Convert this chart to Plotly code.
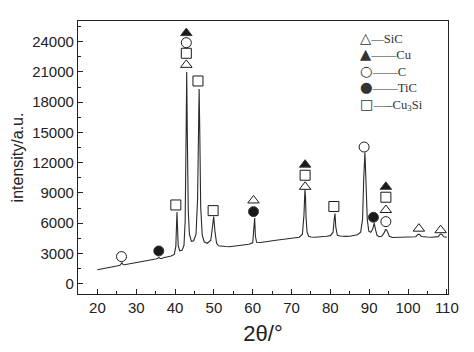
import plotly.graph_objects as go

# XRD profile (2θ in degrees, intensity in a.u.)
two_theta = [20.0, 21.0, 22.0, 23.0, 24.0, 25.0, 25.8, 26.1, 26.3, 26.6, 27.0, 28.0, 29.0, 30.0,
             31.0, 32.0, 33.0, 34.0, 35.0, 35.5, 35.8, 36.1, 36.5, 37.0, 38.0, 39.0, 39.8,
             40.2, 40.4, 40.5, 40.6, 40.8, 41.2, 41.8, 42.3, 42.6, 42.85, 43.0, 43.15, 43.4,
             43.7, 44.2, 44.8, 45.4, 45.8, 46.05, 46.2, 46.35, 46.6, 47.0, 47.5, 48.3, 49.2,
             49.6, 49.95, 50.3, 50.7, 51.2, 52.0, 53.0, 54.0, 55.0, 56.0, 57.0, 58.0, 59.0,
             60.0, 60.3, 60.5, 60.7, 61.0, 62.0, 63.0, 64.0, 65.0, 66.0, 67.0, 68.0, 69.0,
             70.0, 71.0, 72.0, 72.8, 73.2, 73.45, 73.6, 73.75, 74.0, 74.4, 75.0, 76.0, 77.0,
             78.0, 79.0, 80.0, 80.7, 81.0, 81.2, 81.4, 81.8, 82.5, 83.0, 84.0, 85.0, 86.0,
             87.0, 87.8, 88.3, 88.6, 88.9, 89.2, 89.5, 89.9, 90.4, 90.9, 91.1, 91.3, 91.6,
             92.0, 92.5, 93.2, 93.8, 94.2, 94.5, 94.8, 95.2, 96.0, 97.0, 98.0, 99.0, 100.0,
             101.0, 102.0, 102.6, 103.0, 103.4, 104.0, 105.0, 106.0, 107.0, 107.8, 108.3,
             108.7, 109.2, 110.0]
intensity = [1380, 1440, 1520, 1590, 1670, 1750, 1820, 1960, 2080, 1900, 1870, 1950, 2010, 2080,
             2150, 2220, 2300, 2360, 2440, 2480, 2600, 2520, 2470, 2560, 2640, 2740, 2900,
             3700, 6100, 7100, 5900, 3800, 3250, 3300, 3800, 6200, 15000, 21000, 15000, 7200,
             4900, 4200, 4250, 4900, 8400, 16500, 19300, 15500, 7600, 4800, 4150, 4000, 4300,
             5500, 6650, 5100, 4000, 3750, 3700, 3680, 3650, 3700, 3760, 3800, 3860, 3900,
             4050, 5600, 6500, 4700, 4100, 4080, 4150, 4200, 4260, 4300, 4350, 4400, 4450,
             4480, 4530, 4600, 4900, 6800, 9300, 8600, 6500, 5100, 4700, 4620, 4600, 4620,
             4650, 4700, 4760, 5100, 6400, 6950, 5600, 4800, 4720, 4700, 4690, 4700, 4760,
             4850, 5100, 6400, 10500, 13000, 9800, 6400, 5200, 5100, 5400, 5900, 6000, 5400,
             4800, 4650, 4700, 5000, 5350, 5330, 5000, 4700, 4580, 4600, 4580, 4620, 4600,
             4620, 4650, 4900, 4880, 4680, 4640, 4620, 4600, 4630, 4660, 4920,
             4900, 4650, 4600]

# Phase markers (2θ, intensity)
sic_x = [42.9, 60.2, 73.5, 94.3, 102.8, 108.4]
sic_y = [21700, 8250, 9600, 7300, 5450, 5300]
cu_x = [42.9, 73.5, 94.3]
cu_y = [24850, 11800, 9600]
c_x = [26.2, 42.9, 88.7, 94.3]
c_y = [2680, 23900, 13550, 6150]
tic_x = [35.8, 60.2, 91.1]
tic_y = [3240, 7140, 6580]
cu3si_x = [40.2, 42.9, 45.9, 49.8, 73.5, 80.9, 94.3]
cu3si_y = [7800, 22850, 20100, 7240, 10750, 7650, 8570]

x_ticks = [20, 30, 40, 50, 60, 70, 80, 90, 100, 110]
y_ticks = [0, 3000, 6000, 9000, 12000, 15000, 18000, 21000, 24000]

# key text: symbol, connector, phase name
key_lines = [
    ("△", "—", "SiC"),
    ("▲", "——", "Cu"),
    ("○", "——", "C"),
    ("●", "——", "TiC"),
    ("□", "—–", "Cu<sub>3</sub>Si"),
]

ink = "#3a3a3a"
fig = go.Figure()
fig.add_trace(go.Scatter(x=two_theta, y=intensity, mode="lines",
                         line=dict(color="#2a2a2a", width=1.1), showlegend=False,
                         hoverinfo="skip"))

phases = [
    (sic_x, sic_y, "triangle-up-open"),
    (cu_x, cu_y, "triangle-up"),
    (c_x, c_y, "circle-open"),
    (tic_x, tic_y, "circle"),
    (cu3si_x, cu3si_y, "square-open"),
]
for xs, ys, sym in phases:
    fig.add_trace(go.Scatter(x=xs, y=ys, mode="markers", showlegend=False,
                             marker=dict(symbol=sym, size=10, color="#1a1a1a",
                                         line=dict(color=ink, width=1))))

key_text = "<br>".join(
    f"<span style='font-family:DejaVu Sans;font-size:14.5px'>{s}</span>{d}{n}" for s, d, n in key_lines)
fig.add_annotation(xref="paper", yref="paper", x=0.758, y=0.975, xanchor="left", yanchor="top",
                   text=key_text, showarrow=False, align="left",
                   font=dict(family="Liberation Serif, DejaVu Serif", size=12.6, color="#333"))

axis_common = dict(showline=True, linecolor="#222", linewidth=1.2, mirror=True,
                   ticks="inside", ticklen=5, tickwidth=1, tickcolor="#222",
                   showgrid=False, zeroline=False,
                   tickfont=dict(family="Liberation Sans, Arial", size=15, color="#222"))

fig.update_xaxes(range=[15, 110.3], tickvals=x_ticks, ticktext=[str(v) for v in x_ticks],
                 minor=dict(ticks="inside", ticklen=3, dtick=5, tick0=0, tickcolor="#222"),
                 title=dict(text="2θ/°", font=dict(family="Liberation Sans, Arial", size=22, color="#222"),
                            standoff=10),
                 **axis_common)
fig.update_yaxes(range=[-1030, 26050], tickvals=y_ticks, ticktext=[str(v) for v in y_ticks],
                 minor=dict(ticks="inside", ticklen=3, dtick=1500, tick0=0, tickcolor="#222"),
                 title=dict(text="intensity/a.u.", font=dict(family="Liberation Sans, Arial", size=16, color="#222"),
                            standoff=4),
                 **axis_common)

fig.update_layout(
    width=474, height=352,
    margin=dict(l=78, r=26, t=21, b=58),
    paper_bgcolor="white", plot_bgcolor="white",
    showlegend=False,
)

fig.write_html("out.html")
